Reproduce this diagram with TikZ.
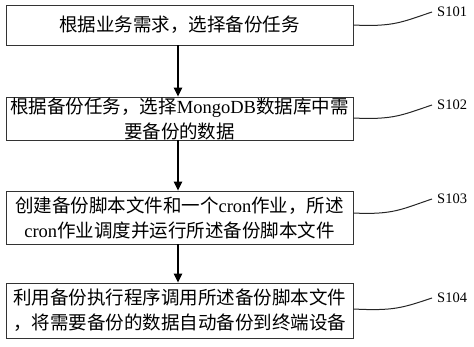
\documentclass[tikz,border=0pt]{standalone}
\usepackage{fontspec}
\setmainfont{Liberation Serif}
\newfontfamily\cjk{Noto Sans CJK SC}
\newfontfamily\latf{Liberation Serif}
\newcommand\lat[1]{{\latf #1}}
\usetikzlibrary{arrows.meta}
\begin{document}
\begin{tikzpicture}[x=1pt,y=-1pt,
  stepbox/.style={draw=black!80,line width=0.9pt,minimum width=347pt,inner sep=0pt,align=center,
    font=\cjk\fontsize{18.5}{25}\selectfont},
  flow/.style={draw=black,line width=1.2pt,-{Triangle[length=9pt,width=8.5pt]}},
  lbl/.style={anchor=west,inner sep=0pt,font=\latf\fontsize{14.5}{16}\selectfont},
  lead/.style={draw=black!85,line width=1pt}]
\useasboundingbox (0,0) rectangle (474,346);
\node[stepbox,minimum height=40pt] (b1) at (179.5,25) {根据业务需求，选择备份任务};
\node[stepbox,minimum height=43pt] (b2) at (179.5,118.5) {根据备份任务，选择\lat{MongoDB}数据库中需\\要备份的数据};
\node[stepbox,minimum height=53pt] (b3) at (179.5,217.5) {创建备份脚本文件和一个\lat{cron}作业，所述\\\lat{cron}作业调度并运行所述备份脚本文件};
\node[stepbox,minimum height=55pt] (b4) at (179.5,310.5) {利用备份执行程序调用所述备份脚本文件\\，将需要备份的数据自动备份到终端设备};
\draw[flow] (b1.south -| 178,0) -- (b2.north -| 178,0);
\draw[flow] (b2.south -| 178,0) -- (b3.north -| 178,0);
\draw[flow] (b3.south -| 178,0) -- (b4.north -| 178,0);
\node[lbl] (l1) at (437,12) {S101};
\node[lbl] (l2) at (437,105) {S102};
\node[lbl] (l3) at (437,199) {S103};
\node[lbl] (l4) at (437,298) {S104};
\coordinate (c1) at (b1.east |- 0,25);
\coordinate (c2) at (b2.east |- 0,118);
\coordinate (c3) at (b3.east |- 0,213);
\coordinate (c4) at (b4.east |- 0,309);
\draw[lead] (c1) .. controls +(40,2) and +(-30,10) .. ([xshift=-5pt]l1.west);
\draw[lead] (c2) .. controls +(40,2) and +(-30,10) .. ([xshift=-5pt]l2.west);
\draw[lead] (c3) .. controls +(40,2) and +(-30,10) .. ([xshift=-5pt]l3.west);
\draw[lead] (c4) .. controls +(40,2) and +(-30,10) .. ([xshift=-5pt]l4.west);
\end{tikzpicture}
\end{document}
